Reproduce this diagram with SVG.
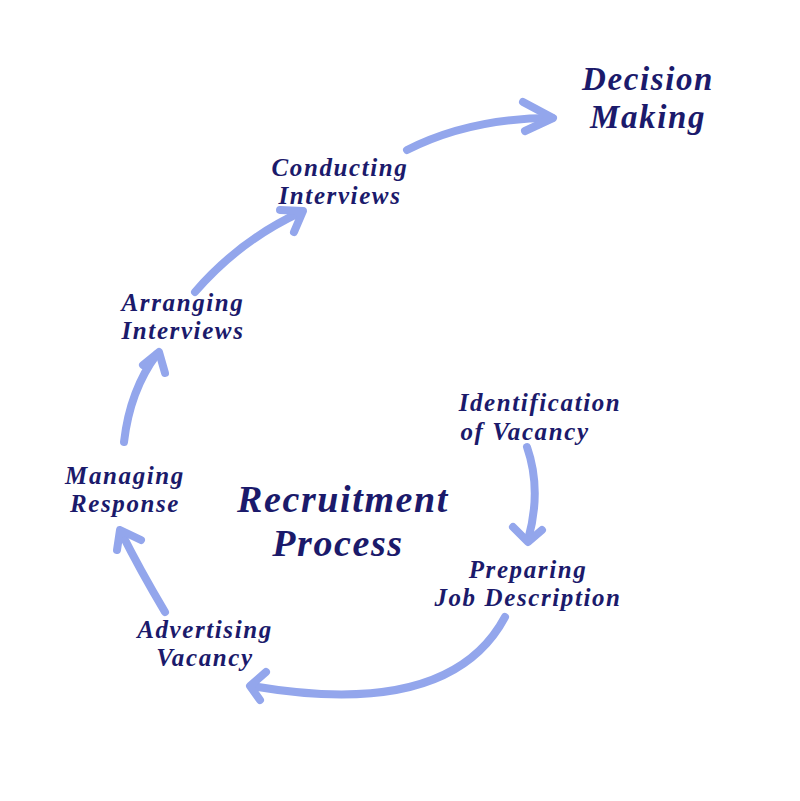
<svg xmlns="http://www.w3.org/2000/svg" width="800" height="801" viewBox="0 0 800 801">
<style>
.t{font-family:"Liberation Serif",serif;font-style:italic;font-weight:bold;fill:#1b1a6b;text-anchor:middle;font-size:25px;letter-spacing:1.6px}
.b{font-size:33px}
.c{stroke:#93a6ec;stroke-width:8;fill:none;stroke-linecap:round;stroke-linejoin:round}
</style>
<rect width="800" height="801" fill="#fff"/>
<g id="connectors">
<path class="c" d="M527 447 Q542 490 528 540"/><path class="c" d="M513 527 L528 542 L542 530"/>
<path class="c" d="M505 617 Q450 720 252 686"/><path class="c" d="M266 672 L250 686 L260 700"/>
<path class="c" d="M165 612 Q140 570 121 532"/><path class="c" d="M117 550 L120 530 L141 540"/>
<path class="c" d="M124 442 Q130 390 157 354"/><path class="c" d="M143 365 L159 352 L165 373"/>
<path class="c" d="M195 292 Q240 240 301 212"/><path class="c" d="M280 210 L303 211 L294 232"/>
<path class="c" d="M407 150 Q470 118 552 118"/><path class="c" d="M523 102 L553 118 L525 131"/>
</g>
<g id="decision"><text class="t b" x="648" y="90">Decision</text><text class="t b" x="648" y="128">Making</text></g>
<g id="conducting"><text class="t" x="340" y="176">Conducting</text><text class="t" x="340" y="204">Interviews</text></g>
<g id="arranging"><text class="t" x="183" y="311">Arranging</text><text class="t" x="183" y="339">Interviews</text></g>
<g id="identification"><text class="t" x="540" y="411">Identification</text><text class="t" x="525" y="440">of Vacancy</text></g>
<g id="managing"><text class="t" x="125" y="484">Managing</text><text class="t" x="125" y="512">Response</text></g>
<g id="center"><text class="t" style="font-size:38px" x="343" y="512">Recruitment</text><text class="t" style="font-size:38px" x="338" y="556">Process</text></g>
<g id="preparing"><text class="t" x="528" y="578">Preparing</text><text class="t" x="528" y="606">Job Description</text></g>
<g id="advertising"><text class="t" x="205" y="638">Advertising</text><text class="t" x="205" y="666">Vacancy</text></g>
</svg>
